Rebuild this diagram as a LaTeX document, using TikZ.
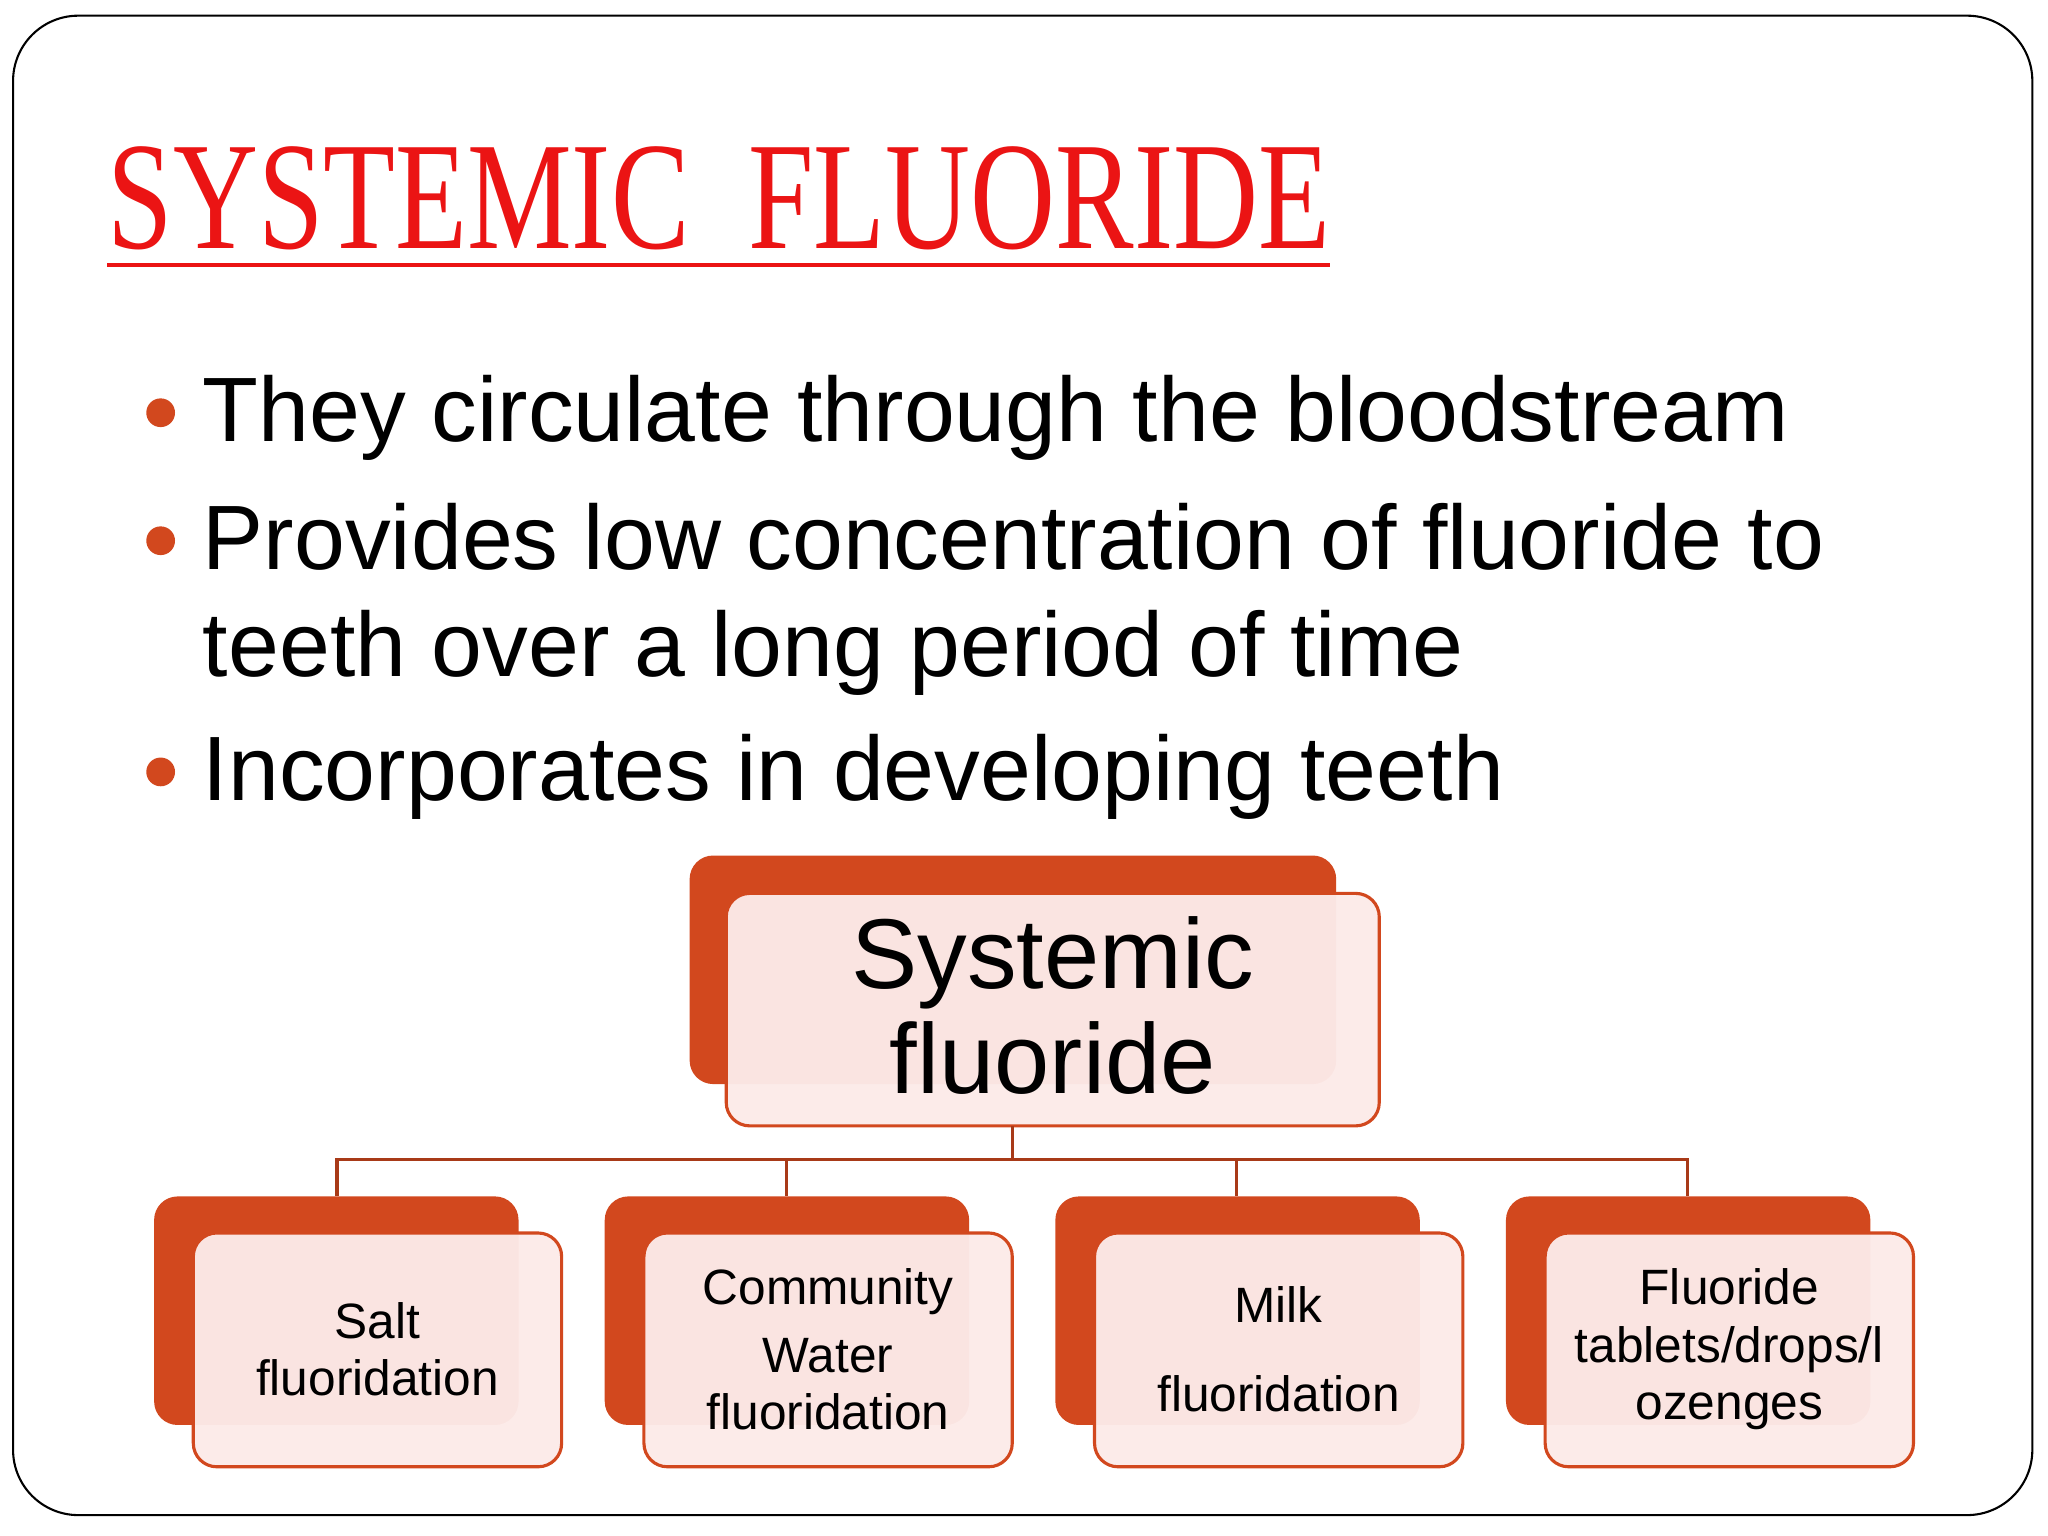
\documentclass[tikz,border=0pt]{standalone}
\usepackage{fontspec}
\setmainfont{Liberation Sans}
\newfontfamily\titlefont{Liberation Serif}
\definecolor{ored}{RGB}{210,72,30}
\definecolor{pinkf}{RGB}{252,234,232}
\definecolor{tred}{RGB}{235,20,20}
\begin{document}
\begin{tikzpicture}[x=0.5pt,y=-0.5pt,
  back/.style={fill=ored,rounded corners=9pt},
  front/.style={draw=ored,line width=1.2pt,fill=pinkf,fill opacity=0.97,text opacity=1,rounded corners=9pt},
  conn/.style={draw=ored!80!black,line width=1.2pt},
  small/.style={font=\fontsize{19}{22}\selectfont,align=center}]
\useasboundingbox (0,0) rectangle (1568,1176);
\draw[line width=0.8pt,rounded corners=25pt] (10,12) rectangle (1556,1160);
\node[anchor=south west,inner sep=0,text=tred] (title) at (82,192) {\resizebox{468pt}{39pt}{\titlefont SYSTEMIC\ \ FLUORIDE}};
\draw[tred,line width=1.6pt] (82,203) -- (1018,203);
\foreach \y/\t in {338/They circulate through the bloodstream,436/Provides low concentration of fluoride to,613/Incorporates in developing teeth}{
  \fill[ored] (123,\y-22) circle (11);
  \node[anchor=base west,inner sep=0,font=\fontsize{35}{40}\selectfont] at (155,\y) {\t};}
\node[anchor=base west,inner sep=0,font=\fontsize{35}{40}\selectfont] at (155,518) {teeth over a long period of time};
\fill[back] (528,655) rectangle (1023,830);
\draw[front] (556,684) rectangle (1056,862);
\node[font=\fontsize{38}{40}\selectfont,align=center] (root) at (806,770) {Systemic\\fluoride};
\coordinate (j) at (775,888);
\draw[conn] (775,862) -- (j);
\draw[conn] (258,916) -- (258,888) -- (1292,888) -- (1292,916);
\draw[conn] (602,888) -- (602,916);
\draw[conn] (947,888) -- (947,916);
\foreach \i/\t/\yy in {0/{Salt\\fluoridation}/1033,1/{Community\\[4pt]Water\\fluoridation}/1033,2/{Milk\\[12pt]fluoridation}/1033,3/{Fluoride\\tablets/drops/l\\ozenges}/1033}{
  \begin{scope}[xshift=\i*345*0.5pt]
  \fill[back] (118,916) rectangle (397,1091);
  \draw[front] (148,944) rectangle (430,1123);
  \node[small] (b\i) at (289,\yy) {\t};
  \end{scope}}
\end{tikzpicture}
\end{document}
